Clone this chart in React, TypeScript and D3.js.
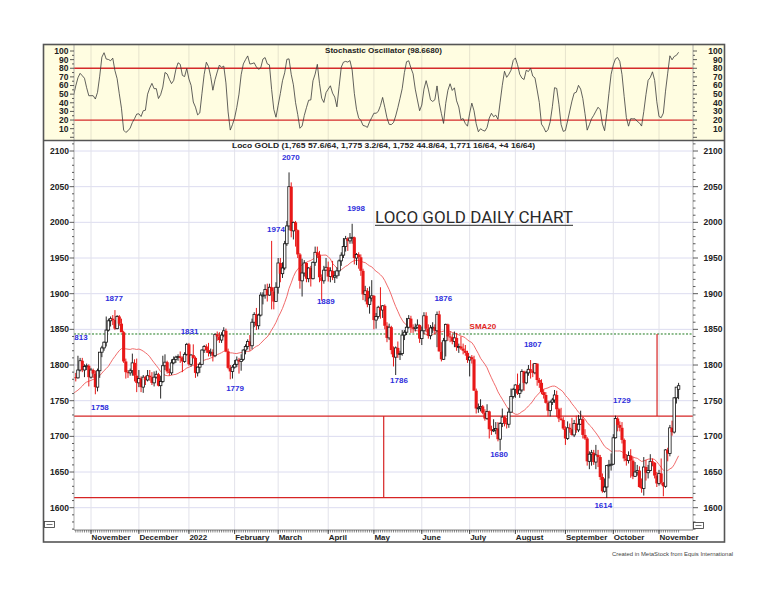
import React from 'react';
import * as d3 from 'd3';

// ---- Daily OHLC (open, high, low, close), trading days from 23 Sep 2021 ----
const sep2021 = [
  [1768,1770,1738,1743],[1743,1754,1739,1750],[1750,1760,1742,1751],[1751,1752,1726,1734],
  [1734,1741,1722,1726],[1726,1764,1721,1757],
];
const oct2021 = [
  [1757,1765,1746,1761],[1761,1770,1755,1769],[1769,1770,1746,1760],[1760,1763,1746,1761],
  [1761,1763,1752,1756],[1756,1781,1749,1757],[1757,1762,1749,1754],[1754,1770,1752,1760],
  [1760,1795,1757,1793],[1793,1800,1789,1797],[1797,1799,1761,1767],[1767,1772,1746,1765],
  [1765,1785,1763,1769],[1769,1789,1766,1783],[1783,1789,1777,1782],[1782,1813,1781,1793],
  [1793,1810,1791,1806],[1806,1810,1790,1793],[1793,1801,1783,1798],[1798,1802,1793,1799],
  [1799,1801,1770,1783],
];
const nov2021 = [
  [1783,1796,1781,1793],[1793,1795,1782,1788],[1788,1792,1759,1769],[1769,1795,1763,1792],
  [1792,1818,1782,1818],[1818,1827,1811,1824],[1824,1833,1820,1832],[1832,1868,1826,1849],
  [1849,1865,1847,1862],[1862,1868,1854,1865],[1865,1870,1856,1863],[1863,1877,1849,1851],
  [1851,1870,1850,1868],[1868,1870,1855,1858],[1858,1865,1846,1846],[1846,1848,1803,1805],
  [1805,1809,1781,1790],[1790,1793,1782,1789],[1789,1795,1785,1792],[1792,1816,1785,1803],
  [1803,1808,1777,1785],[1785,1809,1762,1775],
];
const dec2021 = [
  [1775,1793,1769,1781],[1781,1784,1762,1769],[1769,1786,1761,1783],[1783,1785,1772,1779],
  [1779,1793,1777,1785],[1785,1793,1778,1783],[1783,1790,1772,1775],[1775,1791,1770,1783],
  [1783,1792,1781,1787],[1787,1789,1770,1771],[1771,1785,1753,1777],[1777,1813,1775,1799],
  [1799,1815,1793,1804],[1804,1806,1788,1791],[1791,1795,1785,1789],[1789,1808,1786,1803],
  [1803,1812,1801,1808],[1808,1813,1803,1811],[1811,1815,1806,1812],[1812,1819,1803,1810],
  [1810,1812,1790,1805],[1805,1818,1803,1815],[1815,1831,1813,1829],
];
const jan2022 = [
  [1829,1831,1799,1801],[1801,1815,1798,1814],[1814,1829,1809,1810],[1810,1812,1782,1789],
  [1789,1798,1784,1797],[1797,1804,1789,1801],[1801,1822,1800,1821],[1821,1828,1817,1826],
  [1826,1829,1817,1821],[1821,1831,1812,1817],[1817,1823,1812,1818],[1818,1822,1805,1813],
  [1813,1844,1811,1843],[1843,1847,1834,1840],[1840,1846,1831,1835],[1835,1846,1831,1842],
  [1842,1853,1839,1848],[1848,1851,1818,1819],[1819,1823,1794,1796],[1796,1800,1780,1791],
  [1791,1800,1781,1797],
];
const feb2022 = [
  [1797,1807,1795,1801],[1801,1812,1797,1807],[1807,1810,1788,1805],[1805,1815,1792,1808],
  [1808,1822,1806,1821],[1821,1829,1815,1826],[1826,1836,1822,1833],[1833,1842,1820,1827],
  [1827,1865,1822,1860],[1860,1874,1853,1871],[1871,1880,1849,1855],[1855,1872,1850,1870],
  [1870,1902,1868,1898],[1898,1902,1885,1898],[1898,1913,1893,1906],[1906,1914,1889,1898],
  [1898,1914,1897,1909],[1909,1974,1878,1903],[1903,1909,1878,1889],[1889,1916,1889,1909],
];
const mar2022 = [
  [1909,1950,1900,1943],[1943,1950,1916,1928],[1928,1944,1922,1936],[1936,1974,1933,1970],
  [1970,2002,1967,1995],[1995,2070,1989,2050],[2050,2056,1979,1988],[1988,2001,1976,2000],
  [2000,2002,1966,1989],[1989,1990,1950,1955],[1955,1957,1907,1918],[1918,1949,1896,1929],
  [1929,1947,1924,1943],[1943,1944,1916,1921],[1921,1937,1916,1936],[1936,1939,1910,1921],
  [1921,1945,1920,1944],[1944,1966,1939,1958],[1958,1966,1950,1954],[1954,1960,1916,1923],
  [1923,1927,1890,1918],[1918,1939,1914,1933],[1933,1950,1932,1937],
];
const apr2022 = [
  [1937,1945,1917,1924],[1924,1937,1916,1932],[1932,1946,1919,1923],[1923,1932,1915,1925],
  [1925,1937,1921,1932],[1932,1948,1925,1946],[1946,1958,1939,1954],[1954,1978,1950,1966],
  [1966,1981,1959,1977],[1977,1979,1960,1974],[1974,1985,1970,1978],[1978,1998,1970,1979],
  [1979,1980,1941,1950],[1950,1957,1940,1955],[1955,1958,1935,1951],[1951,1955,1925,1932],
  [1932,1935,1891,1899],[1899,1911,1889,1904],[1904,1908,1881,1885],[1885,1910,1872,1894],
  [1894,1919,1889,1897],
];
const may2022 = [
  [1897,1898,1850,1863],[1863,1873,1851,1868],[1868,1883,1865,1881],[1881,1909,1865,1877],
  [1877,1884,1866,1883],[1883,1885,1850,1855],[1855,1860,1832,1838],[1838,1858,1835,1853],
  [1853,1855,1815,1821],[1821,1826,1798,1811],[1811,1826,1786,1824],[1824,1833,1810,1815],
  [1815,1820,1807,1816],[1816,1849,1813,1842],[1842,1849,1835,1846],[1846,1866,1842,1853],
  [1853,1870,1851,1865],[1865,1869,1845,1853],[1853,1857,1845,1851],[1851,1858,1847,1853],
  [1853,1864,1851,1856],[1856,1857,1831,1837],
];
const jun2022 = [
  [1837,1854,1828,1848],[1848,1874,1844,1869],[1869,1874,1846,1851],[1851,1857,1837,1841],
  [1841,1856,1836,1852],[1852,1860,1845,1853],[1853,1857,1843,1848],[1848,1875,1825,1871],
  [1871,1876,1819,1819],[1819,1832,1805,1808],[1808,1838,1807,1834],[1834,1858,1812,1857],
  [1857,1858,1834,1840],[1840,1847,1832,1839],[1839,1843,1829,1833],[1833,1847,1825,1838],
  [1838,1845,1820,1825],[1825,1830,1817,1826],[1826,1840,1821,1823],[1823,1830,1815,1820],
  [1820,1828,1813,1817],[1817,1820,1803,1807],
];
const jul2022 = [
  [1807,1812,1784,1811],[1811,1814,1802,1808],[1808,1813,1764,1764],[1764,1767,1732,1739],
  [1739,1746,1733,1740],[1740,1752,1735,1742],[1742,1744,1731,1733],[1733,1738,1722,1725],
  [1725,1745,1723,1735],[1735,1736,1697,1710],[1710,1715,1702,1708],[1708,1724,1706,1709],
  [1709,1720,1703,1711],[1711,1720,1693,1696],[1696,1720,1680,1718],[1718,1739,1713,1727],
  [1727,1729,1714,1719],[1719,1726,1711,1717],[1717,1740,1712,1734],[1734,1767,1733,1756],
  [1756,1768,1753,1766],
];
const aug2022 = [
  [1766,1773,1754,1772],[1772,1788,1758,1760],[1760,1774,1754,1765],[1765,1794,1762,1791],
  [1791,1792,1764,1775],[1775,1792,1773,1789],[1789,1800,1785,1794],[1794,1807,1781,1792],
  [1792,1802,1783,1789],[1789,1802,1787,1802],[1802,1802,1771,1779],[1779,1782,1768,1775],
  [1775,1780,1759,1762],[1762,1766,1753,1758],[1758,1762,1746,1747],[1747,1750,1728,1736],
  [1736,1750,1728,1748],[1748,1754,1744,1751],[1751,1765,1747,1758],[1758,1764,1727,1738],
  [1738,1740,1720,1725],[1725,1740,1722,1723],[1723,1727,1709,1711],
];
const sep2022 = [
  [1711,1714,1688,1697],[1697,1721,1695,1712],[1712,1718,1705,1710],[1710,1726,1701,1702],
  [1702,1723,1699,1718],[1718,1729,1705,1709],[1709,1730,1706,1717],[1717,1736,1716,1724],
  [1724,1728,1697,1702],[1702,1710,1695,1697],[1697,1699,1659,1665],[1665,1679,1654,1675],
  [1675,1681,1659,1677],[1677,1681,1660,1664],[1664,1688,1654,1674],[1674,1681,1657,1671],
  [1671,1674,1639,1643],[1643,1648,1621,1623],[1623,1641,1621,1629],[1629,1660,1614,1659],
  [1659,1667,1641,1660],[1660,1676,1652,1661],
];
const oct2022 = [
  [1661,1703,1660,1698],[1698,1729,1697,1725],[1725,1727,1707,1716],[1716,1721,1707,1712],
  [1712,1720,1690,1695],[1695,1697,1665,1669],[1669,1675,1659,1666],[1666,1679,1662,1673],
  [1673,1682,1642,1666],[1666,1671,1640,1644],[1644,1664,1643,1650],[1650,1660,1645,1652],
  [1652,1658,1628,1629],[1629,1641,1621,1627],[1627,1671,1617,1657],[1657,1667,1638,1649],
  [1649,1660,1641,1652],[1652,1675,1651,1665],[1665,1669,1658,1663],[1663,1664,1641,1645],
  [1645,1650,1629,1634],
];
const nov2022 = [
  [1634,1653,1631,1648],[1648,1669,1632,1635],[1635,1636,1616,1630],[1630,1682,1628,1681],
  [1681,1684,1665,1676],[1676,1716,1672,1712],[1712,1722,1701,1706],[1706,1755,1704,1754],
  [1754,1769,1746,1769],[1766,1775,1752,1771],
];

// ---- axis / annotation values ----
const priceTicks = [1600, 1650, 1700, 1750, 1800, 1850, 1900, 1950, 2000, 2050, 2100];
const stochTicks = [10, 20, 30, 40, 50, 60, 70, 80, 90, 100];
const stochLevels = [20, 80];
const monthNames = ['January','February','March','April','May','June','July','August','September','October','November','December'];
const supportLevel = 1614;
const breakoutLevel = 1728.5;
const targetLevel = 1843.5;
// [text, bar index, price at which text is centred]
const peakLabels: [string, number, number][] = [
  ['1813', 21.4, 1839.3], ['1877', 37.6, 1893.5], ['1758', 31.1, 1741.2], ['1831', 72.3, 1847.7],
  ['1779', 93.2, 1768.2], ['2070', 118.8, 2092], ['1974', 112, 1991], ['1889', 134.9, 1888.8],
  ['1998', 148.8, 2020], ['1876', 188.9, 1893.5], ['1786', 168.5, 1779], ['1807', 230, 1829.5],
  ['1680', 214.5, 1674.9], ['1729', 270.9, 1750], ['1614', 262.4, 1604.2],
];
const measureLeftIdx = 161.5;
const measureRightIdx = 287.1;
const smaLabel: [string, number, number] = ['SMA20', 207.1, 1855];

const FONT = "'Liberation Sans', Arial, sans-serif";

export default function App() {
  const rows = [...sep2021, ...oct2021, ...nov2021, ...dec2021, ...jan2022, ...feb2022, ...mar2022,
    ...apr2022, ...may2022, ...jun2022, ...jul2022, ...aug2022, ...sep2022, ...oct2022, ...nov2022];
  const n = rows.length;
  const dates: Date[] = [];
  const d = new Date(2021, 8, 23);
  while (dates.length < n) {
    const wd = d.getDay();
    if (wd !== 0 && wd !== 6) dates.push(new Date(d));
    d.setDate(d.getDate() + 1);
  }
  const bars = rows.map(([o, h, l, c], i) => ({ i, o, c, h: Math.max(h, o, c), l: Math.min(l, o, c) }));
  const FIRST = 20;

  const PL = 74, PR = 693, PT = 141, PB = 530, ST = 45, SB = 140;
  const x = d3.scaleLinear().domain([27, 288]).range([91, 659]);
  const y = d3.scaleLinear().domain([1600, 2100]).range([507.7, 151]);
  const ys = d3.scaleLinear().domain([0, 100]).range([137.3, 51]);

  const sma = bars.map((b, i) => (i < 19 ? null : d3.mean(bars.slice(i - 19, i + 1), (q) => q.c)!));
  const kRaw = bars.map((b, i) => {
    if (i < 4) return null;
    const w = bars.slice(i - 4, i + 1);
    const ll = d3.min(w, (q) => q.l)!;
    const hh = d3.max(w, (q) => q.h)!;
    return { num: b.c - ll, den: hh - ll };
  });
  const stoch = bars.map((b, i) => {
    if (i < 6) return null;
    let num = 0, den = 0;
    for (let j = i - 2; j <= i; j++) { num += kRaw[j]!.num; den += kRaw[j]!.den; }
    return den > 0 ? (100 * num) / den : 50;
  });

  const smaLine = d3.line<number | null>()
    .defined((v, i) => v !== null && i >= 18)
    .x((v, i) => x(i)).y((v) => y(v as number));
  const stochLine = d3.line<number | null>()
    .defined((v, i) => v !== null && i >= 18)
    .x((v, i) => x(i)).y((v) => ys(v as number));

  const monthStarts: { i: number; label: string }[] = [];
  dates.forEach((dt, i) => {
    if (i > 0 && dt.getMonth() !== dates[i - 1].getMonth()) {
      const m = dt.getMonth();
      monthStarts.push({ i, label: m === 0 ? String(dt.getFullYear()) : monthNames[m] });
    }
  });
  const visMonths = monthStarts.filter((m) => x(m.i) >= PL && x(m.i) <= PR);

  const minorPrice = d3.range(1570, 2111, 10);
  const stochMinor = d3.range(0, 101, 5);
  const bw = 2.5;

  return (
    <svg width={768} height={594} style={{ position: 'absolute', left: 0, top: 0, background: '#fff' }}
      fontFamily={FONT}>
      <defs>
        <clipPath id="mainClip"><rect x={PL} y={PT} width={PR - PL} height={PB - PT} /></clipPath>
        <clipPath id="stClip"><rect x={PL} y={ST} width={PR - PL} height={SB - ST} /></clipPath>
      </defs>
      <rect x={0} y={0} width={768} height={594} fill="#fff" />
      {/* stochastic panel background */}
      <rect x={43.5} y={44.5} width={681} height={96} fill="#FFFDE1" />
      <rect x={43.5} y={140.5} width={681} height={401.5} fill="#fff" />

      {/* ----- stochastic panel ----- */}
      {visMonths.map((m) => (
        <line key={'sg' + m.i} x1={x(m.i)} x2={x(m.i)} y1={ST} y2={SB} stroke="#E6E3CC" strokeWidth={1} />
      ))}
      {stochLevels.map((v) => (
        <line key={'sl' + v} x1={PL} x2={PR} y1={ys(v)} y2={ys(v)} stroke="#D42A2A" strokeWidth={1.3} />
      ))}
      <path d={stochLine(stoch) || ''} fill="none" stroke="#3a3a3a" strokeWidth={0.8} clipPath="url(#stClip)" />
      <line x1={PL} x2={PL} y1={ST} y2={SB} stroke="#999" strokeWidth={0.8} />
      <line x1={PR} x2={PR} y1={ST} y2={SB} stroke="#999" strokeWidth={0.8} />
      {stochMinor.map((v) => (
        <g key={'sm' + v}>
          <line x1={PL - (v % 10 === 0 ? 4 : 2)} x2={PL} y1={ys(v)} y2={ys(v)} stroke="#333" strokeWidth={0.8} />
          <line x1={PR} x2={PR + (v % 10 === 0 ? 4 : 2)} y1={ys(v)} y2={ys(v)} stroke="#333" strokeWidth={0.8} />
        </g>
      ))}
      {stochTicks.map((v) => (
        <g key={'st' + v} fontSize={8.5} fontWeight="bold" fill="#222">
          <text x={68.5} y={ys(v)} dy="0.35em" textAnchor="end">{v}</text>
          <text x={722.5} y={ys(v)} dy="0.35em" textAnchor="end">{v}</text>
        </g>
      ))}
      <text x={383.5} y={52.5} textAnchor="middle" fontSize={8} fontWeight="bold" fill="#222"
        textLength={117} lengthAdjust="spacingAndGlyphs">Stochastic Oscillator (98.6680)</text>

      {/* ----- main panel grid ----- */}
      {priceTicks.map((v) => (
        <line key={'hg' + v} x1={PL} x2={PR} y1={y(v)} y2={y(v)} stroke="#DCDCF0" strokeWidth={1} />
      ))}
      {visMonths.map((m) => (
        <line key={'vg' + m.i} x1={x(m.i)} x2={x(m.i)} y1={PT} y2={PB} stroke="#E2E2EA" strokeWidth={1} />
      ))}

      {/* measured move lines */}
      <g clipPath="url(#mainClip)">
        <line x1={PL} x2={PR} y1={y(targetLevel)} y2={y(targetLevel)} stroke="#1E7A1E" strokeWidth={1}
          strokeDasharray="2,1.6" />
        <line x1={PL} x2={PR} y1={y(breakoutLevel)} y2={y(breakoutLevel)} stroke="#D62424" strokeWidth={1.3} />
        <line x1={PL} x2={PR} y1={y(supportLevel)} y2={y(supportLevel)} stroke="#D62424" strokeWidth={1.3} />
        <line x1={x(measureLeftIdx)} x2={x(measureLeftIdx)} y1={y(supportLevel)} y2={y(breakoutLevel)}
          stroke="#D62424" strokeWidth={1.2} />
        <line x1={x(measureRightIdx)} x2={x(measureRightIdx)} y1={y(breakoutLevel)} y2={y(targetLevel)}
          stroke="#D62424" strokeWidth={1.2} />

        {/* SMA20 */}
        <path d={smaLine(sma) || ''} fill="none" stroke="#EE5A5A" strokeWidth={0.9} />

        {/* candles */}
        {bars.filter((b) => b.i >= FIRST).map((b) => {
          const up = b.c >= b.o;
          const cx = x(b.i);
          const top = y(Math.max(b.o, b.c));
          const hgt = Math.max(1, y(Math.min(b.o, b.c)) - top);
          return up ? (
            <g key={b.i}>
              <line x1={cx} x2={cx} y1={y(b.h)} y2={y(b.l)} stroke="#111" strokeWidth={0.9} />
              <rect x={cx - bw / 2} y={top} width={bw} height={hgt} fill="#fff" stroke="#111" strokeWidth={0.8} />
            </g>
          ) : (
            <g key={b.i}>
              <line x1={cx} x2={cx} y1={y(b.h)} y2={y(b.l)} stroke="#E81818" strokeWidth={1} />
              <rect x={cx - bw / 2 - 0.3} y={top} width={bw + 0.6} height={hgt} fill="#E81818" />
            </g>
          );
        })}

        {/* peak / trough labels */}
        {peakLabels.map(([t, i, p]) => (
          <text key={t} x={x(i)} y={y(p)} dy="0.35em" textAnchor="middle" fontSize={8} fontWeight="bold"
            fill="#2E2EDC">{t}</text>
        ))}
        <text x={x(smaLabel[1])} y={y(smaLabel[2])} dy="0.35em" textAnchor="middle" fontSize={8}
          fontWeight="bold" fill="#E02424">{smaLabel[0]}</text>
      </g>

      {/* chart caption */}
      <text x={375} y={222.7} fontFamily="Roboto, 'Liberation Sans', sans-serif" fontSize={17} fill="#2a2a2a"
        textLength={198} lengthAdjust="spacingAndGlyphs">LOCO GOLD DAILY CHART</text>
      <line x1={375} x2={573} y1={225.3} y2={225.3} stroke="#2a2a2a" strokeWidth={1} />

      {/* main title */}
      <text x={232} y={148} fontSize={8} fontWeight="bold" fill="#222" textLength={303}
        lengthAdjust="spacingAndGlyphs">Loco GOLD (1,765 57.6/64, 1,775 3.2/64, 1,752 44.8/64, 1,771 16/64, +4 16/64)</text>

      {/* axes */}
      <line x1={PL} x2={PL} y1={PT} y2={PB} stroke="#999" strokeWidth={0.8} />
      <line x1={PR} x2={PR} y1={PT} y2={PB} stroke="#999" strokeWidth={0.8} />
      <line x1={PL} x2={PR} y1={PB} y2={PB} stroke="#666" strokeWidth={0.8} />
      {minorPrice.map((v) => (
        <g key={'pm' + v}>
          <line x1={PL - (v % 50 === 0 ? 4.5 : 2)} x2={PL} y1={y(v)} y2={y(v)} stroke="#333" strokeWidth={0.8} />
          <line x1={PR} x2={PR + (v % 50 === 0 ? 5 : 2.5)} y1={y(v)} y2={y(v)} stroke="#333" strokeWidth={0.8} />
        </g>
      ))}
      {priceTicks.map((v) => (
        <g key={'pl' + v} fontSize={8.5} fontWeight="bold" fill="#222">
          <text x={69} y={y(v)} dy="0.35em" textAnchor="end">{v}</text>
          <text x={722.5} y={y(v)} dy="0.35em" textAnchor="end">{v}</text>
        </g>
      ))}
      {bars.filter((b) => b.i >= FIRST && x(b.i) <= PR).map((b) => (
        <line key={'dt' + b.i} x1={x(b.i)} x2={x(b.i)} y1={PB} y2={PB + 2.5} stroke="#333" strokeWidth={0.6} />
      ))}
      {visMonths.map((m) => (
        <g key={'ml' + m.i}>
          <line x1={x(m.i)} x2={x(m.i)} y1={PB} y2={PB + 4} stroke="#222" strokeWidth={0.8} />
          <text x={x(m.i) + 0.5} y={539.5} fontSize={8} fontWeight="bold" fill="#222">{m.label}</text>
        </g>
      ))}

      {/* small scale icons */}
      <rect x={44.5} y={521.5} width={10} height={6} fill="#fff" stroke="#333" strokeWidth={0.8} />
      <line x1={46.5} x2={52.5} y1={524.5} y2={524.5} stroke="#555" strokeWidth={0.8} />
      <rect x={693.5} y={522.5} width={10} height={6} fill="#fff" stroke="#333" strokeWidth={0.8} />
      <line x1={695.5} x2={701.5} y1={525.5} y2={525.5} stroke="#555" strokeWidth={0.8} />

      {/* frames */}
      <rect x={43.5} y={44.5} width={681} height={497.5} fill="none" stroke="#555" strokeWidth={1.6} />
      <line x1={43.5} x2={724.5} y1={140.5} y2={140.5} stroke="#555" strokeWidth={1.4} />

      <text x={612} y={556} fontSize={6} fill="#444" textLength={121} lengthAdjust="spacingAndGlyphs">
        Created in MetaStock from Equis International
      </text>
    </svg>
  );
}
